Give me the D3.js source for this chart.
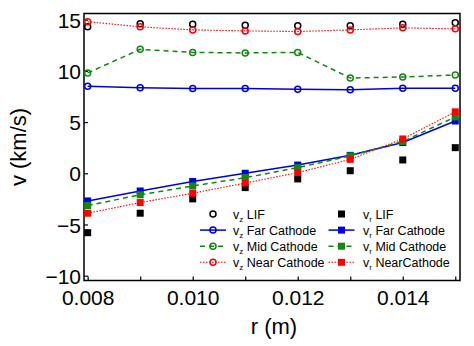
<!DOCTYPE html>
<html>
<head>
<meta charset="utf-8">
<script src="https://cdn.jsdelivr.net/npm/d3@7"></script>
<style>
  body { margin: 0; background: #fff; }
  text { font-family: "Liberation Sans", Arial, sans-serif; }
</style>
</head>
<body>
<div id="chart"></div>
<script>
// radial positions (m)
var r = [0.008, 0.009, 0.010, 0.011, 0.012, 0.013, 0.014, 0.015];

// axial velocity v_z (km/s)
var vzLIF  = [14.3, 14.6, 14.55, 14.45, 14.4, 14.4, 14.55, 14.7];
var vzFar  = [8.5, 8.35, 8.28, 8.28, 8.2, 8.15, 8.3, 8.3];
var vzMid  = [9.8, 12.1, 11.8, 11.75, 11.8, 9.3, 9.4, 9.6];
var vzNear = [14.8, 14.3, 14.0, 13.9, 13.84, 14.0, 14.2, 14.1];

// radial velocity v_r (km/s)
var vrLIF  = [-5.8, -3.9, -2.5, -1.4, -0.55, 0.25, 1.3, 2.5];
var vrFar  = [-2.7, -1.73, -0.8, 0.0, 0.8, 1.75, 3.0, 5.1];
var vrMid  = [-3.15, -2.1, -1.24, -0.43, 0.55, 1.7, 3.1, 5.5];
var vrNear = [-3.9, -2.86, -1.95, -0.95, 0.06, 1.36, 3.35, 6.0];

var xTicks = [0.008, 0.010, 0.012, 0.014];
var yTicks = [-10, -5, 0, 5, 10, 15];

var width = 474, height = 346;
var margin = {top: 13.5, right: 14, bottom: 65.5, left: 84};

var svg = d3.select("#chart").append("svg")
    .attr("width", width)
    .attr("height", height);

var x = d3.scaleLinear()
    .domain([0.00793, 0.01509])
    .range([margin.left, width - margin.right]);

var y = d3.scaleLinear()
    .domain([-10.47, 15.6])
    .range([height - margin.bottom, margin.top]);

// axes (ticks inward)
var xAxis = d3.axisBottom(x)
    .tickValues(d3.range(8).map(function(i) { return 0.008 + i * 0.001; }))
    .tickSizeInner(-4).tickSizeOuter(0)
    .tickFormat(function(d) { return xTicks.some(function(t) { return Math.abs(t - d) < 1e-9; }) ? d3.format(".3f")(d) : ""; });

var yAxis = d3.axisLeft(y)
    .tickValues(yTicks)
    .tickSizeInner(-4).tickSizeOuter(0)
    .tickFormat(d3.format("d"));

var gx = svg.append("g")
    .attr("transform", "translate(0," + (height - margin.bottom) + ")")
    .call(xAxis);
gx.selectAll("text").attr("dy", "0.95em").attr("y", 5)
    .style("font-size", "21px").attr("fill", "#000");

var gy = svg.append("g")
    .attr("transform", "translate(" + margin.left + ",0)")
    .call(yAxis);
gy.selectAll("text").attr("x", -3).attr("dy", "0.36em")
    .style("font-size", "21px").attr("fill", "#000");

svg.selectAll(".domain").remove();
svg.selectAll(".tick line").attr("stroke", "#000").attr("stroke-width", 1.2);

// frame
svg.append("rect")
    .attr("x", margin.left).attr("y", margin.top)
    .attr("width", width - margin.left - margin.right)
    .attr("height", height - margin.top - margin.bottom)
    .attr("fill", "none").attr("stroke", "#000").attr("stroke-width", 1.5);

// axis titles
svg.append("text")
    .attr("x", (margin.left + width - margin.right) / 2 + 2)
    .attr("y", 334)
    .attr("text-anchor", "middle")
    .style("font-size", "22px")
    .text("r (m)");

svg.append("text")
    .attr("transform", "translate(26," + ((margin.top + height - margin.bottom) / 2) + ") rotate(-90)")
    .attr("text-anchor", "middle")
    .style("font-size", "22px")
    .text("v (km/s)");

var line = d3.line()
    .x(function(d) { return x(d[0]); })
    .y(function(d) { return y(d[1]); });

function zipR(vals) { return r.map(function(d, i) { return [d, vals[i]]; }); }

var series = [
  {vals: vzFar,  color: "#0000dd", dash: null,    lw: 1.5, shape: "circle"},
  {vals: vzMid,  color: "#118811", dash: "5,4",   lw: 1.5, shape: "circle"},
  {vals: vzNear, color: "#ff0000", dash: "1.5,1.5", lw: 1.1, shape: "circle"},
  {vals: vrFar,  color: "#0000dd", dash: null,    lw: 1.5, shape: "square"},
  {vals: vrMid,  color: "#118811", dash: "5,4",   lw: 1.5, shape: "square"},
  {vals: vrNear, color: "#ff0000", dash: "1.5,1.5", lw: 1.1, shape: "square"}
];

// LIF points
svg.append("g").selectAll("circle")
    .data(zipR(vzLIF)).enter().append("circle")
    .attr("cx", function(d) { return x(d[0]); })
    .attr("cy", function(d) { return y(d[1]); })
    .attr("r", 3).attr("fill", "none").attr("stroke", "#000").attr("stroke-width", 1.5);

svg.append("g").selectAll("rect")
    .data(zipR(vrLIF)).enter().append("rect")
    .attr("x", function(d) { return x(d[0]) - 3.5; })
    .attr("y", function(d) { return y(d[1]) - 3.5; })
    .attr("width", 7).attr("height", 7).attr("fill", "#000");

function drawMarker(g, shape, color, cx, cy) {
  if (shape === "circle") {
    g.append("circle").attr("cx", cx).attr("cy", cy).attr("r", 3)
      .attr("fill", "none").attr("stroke", color).attr("stroke-width", 1.5);
  } else {
    g.append("rect").attr("x", cx - 3.5).attr("y", cy - 3.5)
      .attr("width", 7).attr("height", 7).attr("fill", color);
  }
}

series.forEach(function(s) {
  var data = zipR(s.vals);
  var g = svg.append("g");
  g.append("path")
    .datum(data)
    .attr("d", line)
    .attr("fill", "none")
    .attr("stroke", s.color)
    .attr("stroke-width", s.lw)
    .attr("stroke-dasharray", s.dash);
  data.forEach(function(d) { drawMarker(g, s.shape, s.color, x(d[0]), y(d[1])); });
});

// legend
var legendLeft = [
  {label: "LIF", sub: "z", color: "#000", dash: null, lw: 0, shape: "circle"},
  {label: "Far Cathode", sub: "z", color: "#0000dd", dash: null, lw: 1.5, shape: "circle"},
  {label: "Mid Cathode", sub: "z", color: "#118811", dash: "5,4", lw: 1.5, shape: "circle"},
  {label: "Near Cathode", sub: "z", color: "#ff0000", dash: "1.5,1.5", lw: 1.1, shape: "circle"}
];
var legendRight = [
  {label: "LIF", sub: "r", color: "#000", dash: null, lw: 0, shape: "square"},
  {label: "Far Cathode", sub: "r", color: "#0000dd", dash: null, lw: 1.5, shape: "square"},
  {label: "Mid Cathode", sub: "r", color: "#118811", dash: "5,4", lw: 1.5, shape: "square"},
  {label: "NearCathode", sub: "r", color: "#ff0000", dash: "1.5,1.5", lw: 1.1, shape: "square"}
];

function drawLegend(items, cx, tx) {
  items.forEach(function(it, i) {
    var ly = 214 + i * 16.1;
    var g = svg.append("g");
    if (it.lw > 0) {
      g.append("line")
        .attr("x1", cx - 13).attr("x2", cx + 13)
        .attr("y1", ly).attr("y2", ly)
        .attr("stroke", it.color).attr("stroke-width", it.lw)
        .attr("stroke-dasharray", it.dash);
    }
    drawMarker(g, it.shape, it.color, cx, ly);
    var t = g.append("text").attr("x", tx).attr("y", ly + 4.5).style("font-size", "12.5px");
    t.append("tspan").text("v");
    t.append("tspan").attr("dy", 3).style("font-size", "8px").text(it.sub);
    t.append("tspan").attr("dy", -3).text(" " + it.label);
  });
}
drawLegend(legendLeft, 213, 233);
drawLegend(legendRight, 341.5, 363);
</script>
</body>
</html>
